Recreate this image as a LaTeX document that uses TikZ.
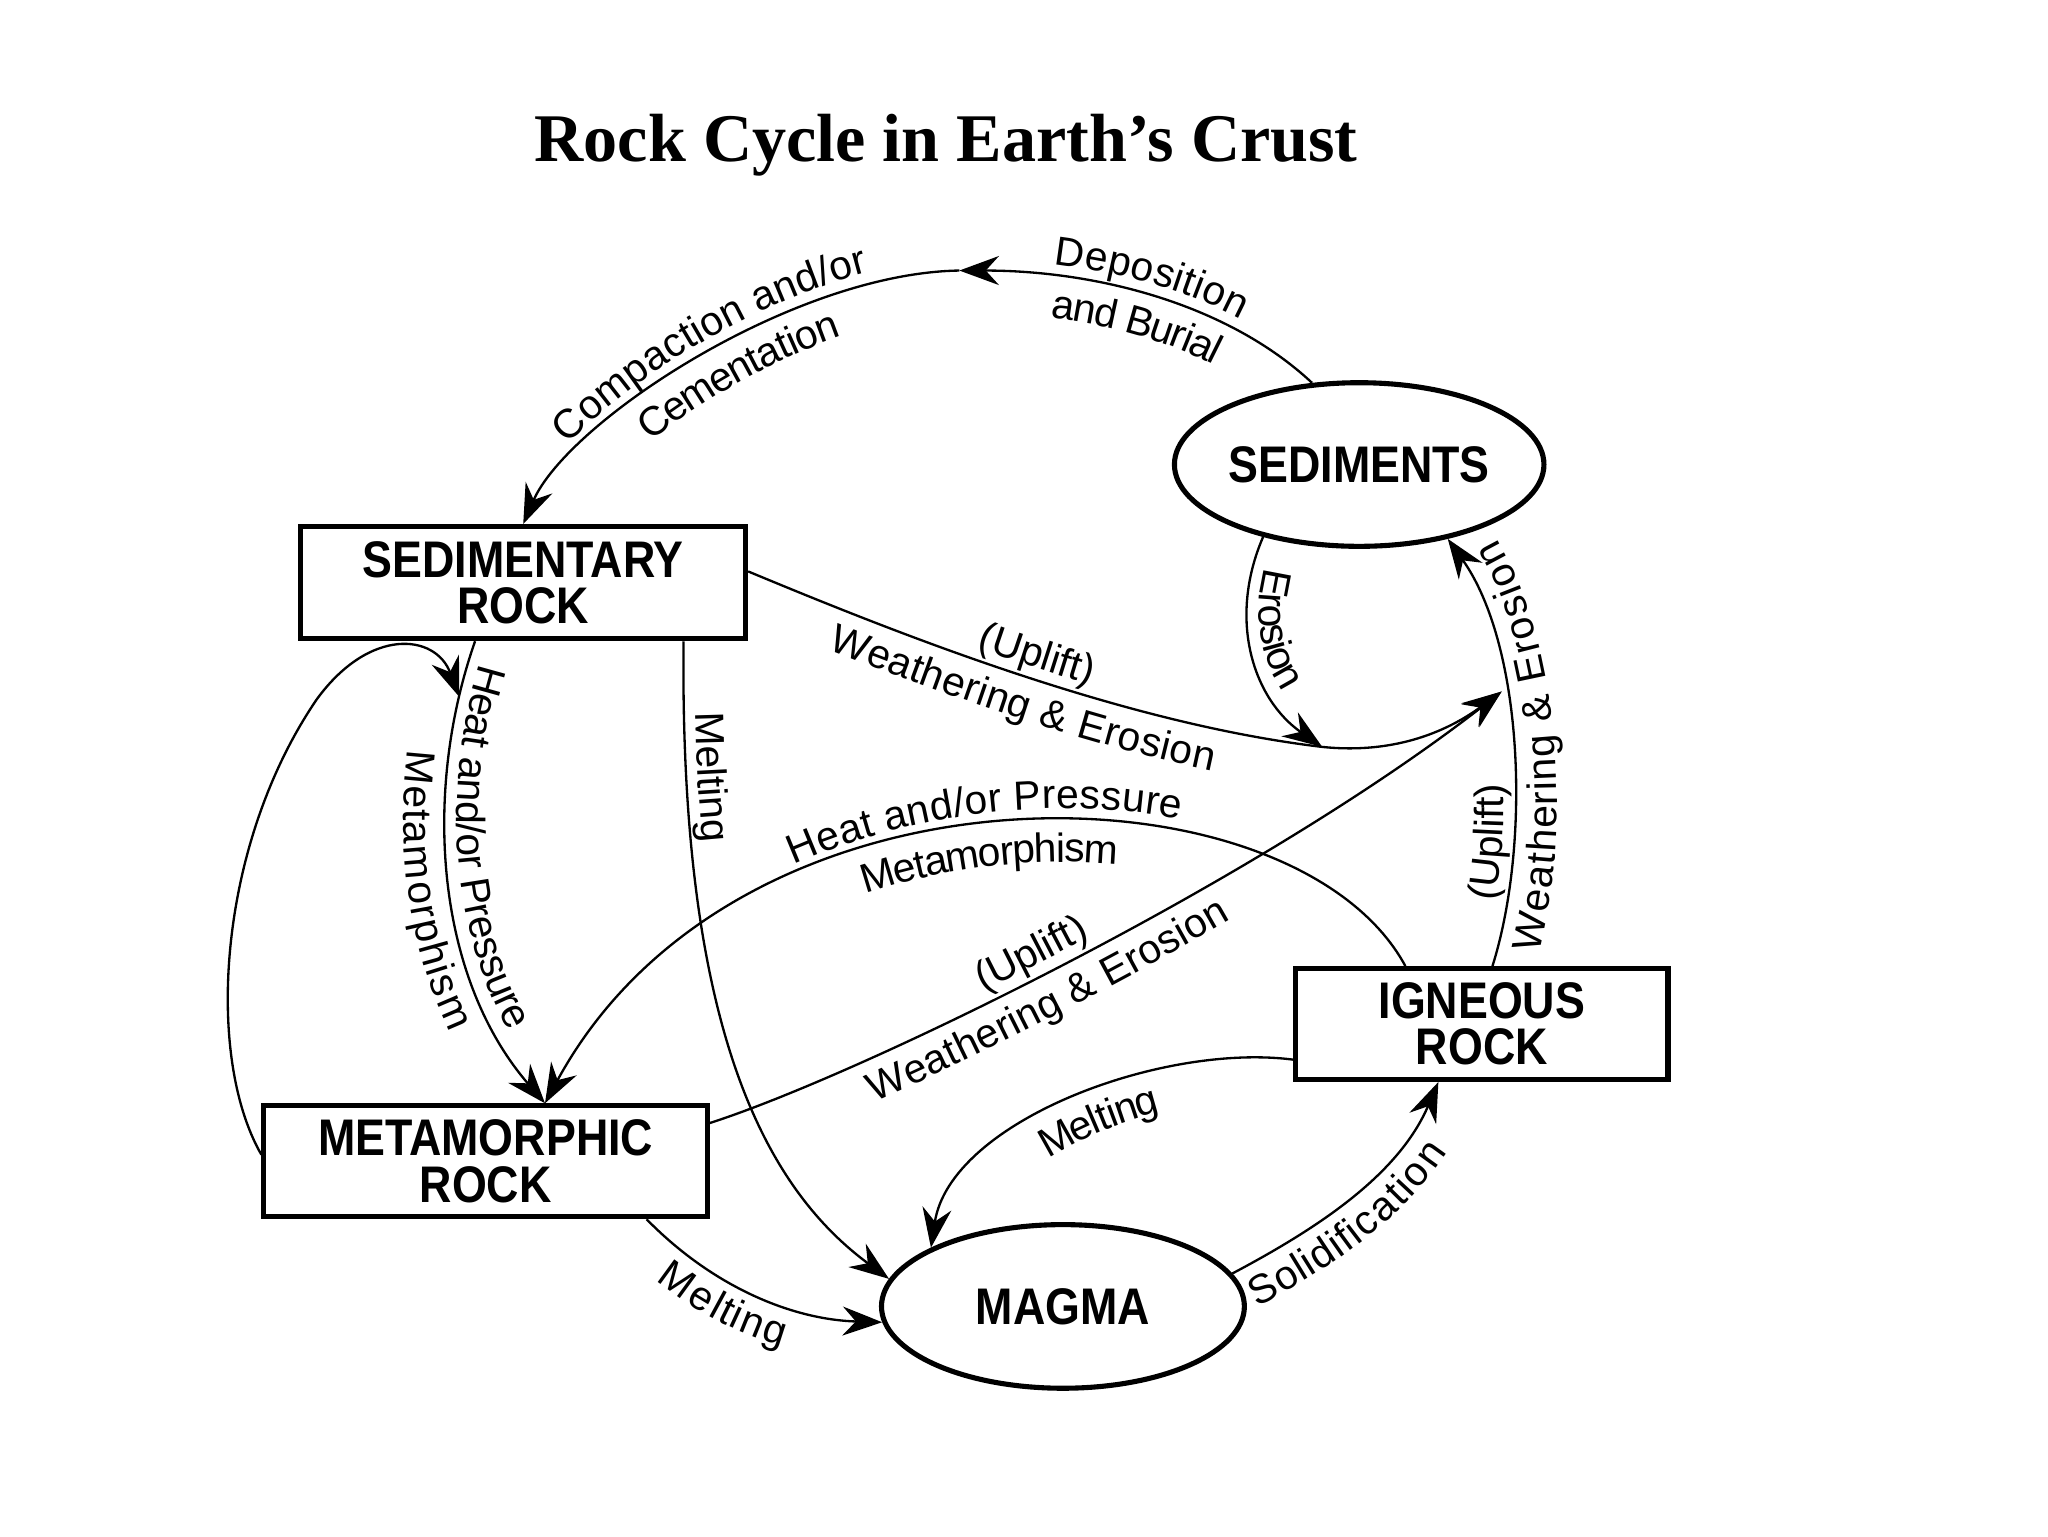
\documentclass[tikz,border=0pt]{standalone}
\usepackage{fontspec}
\usetikzlibrary{arrows.meta,shapes.geometric,decorations.text}
\newfontfamily\lblfont{Liberation Sans}
\newfontfamily\boxfont[FakeStretch=0.87]{Liberation Sans}
\newfontfamily\ttlfont{Liberation Serif}
\newcommand\lblf{\lblfont\fontsize{8.8}{9.5}\selectfont}
\begin{document}
\begin{tikzpicture}[x=0.1mm,y=-0.1mm,
  box/.style={draw,line width=1.1pt,rectangle,inner sep=0pt,align=center,font=\boxfont\bfseries\fontsize{11.1}{10}\selectfont},
  oval/.style={draw,line width=1.1pt,ellipse,inner sep=0pt,font=\boxfont\bfseries\fontsize{11.1}{10}\selectfont},
  flow/.style={line width=0.5pt,-{Stealth[length=3mm,width=2.2mm,inset=1mm]}},
  tpath/.style n args={3}{decorate,decoration={text along path,text={|\lblf|#1},text align={#2},raise=#3}}]
\useasboundingbox (0,0) rectangle (1552,1164);
\node[font=\ttlfont\bfseries\fontsize{14.7}{16}\selectfont] (title) at (717,110) {Rock Cycle in Earth’s Crust};

\node[box,minimum width=33.7mm,minimum height=8.5mm] (sedrock) at (396.5,441.5) {SEDIMENTARY\\ROCK};
\node[box,minimum width=33.6mm,minimum height=8.4mm] (metrock) at (368,880) {METAMORPHIC\\ROCK};
\node[box,minimum width=28.2mm,minimum height=8.4mm] (ignrock) at (1123,776) {IGNEOUS\\ROCK};
\node[oval,minimum width=27.6mm,minimum height=12.4mm] (sediments) at (1030,352) {SEDIMENTS};
\node[oval,minimum width=27.5mm,minimum height=12.4mm] (magma) at (805.5,990) {MAGMA};

\coordinate (top) at (727,205);
\coordinate (j1) at (1002,566);
\coordinate (j2) at (1138,524);
\coordinate (j3) at (348,528);

% deposition and burial
\draw[flow] (sediments.120) .. controls (930,230) and (830,205) .. (top);
\path[tpath={Deposition}{center}{2.5pt}] (top) .. controls (830,205) and (930,230) .. (sediments.120);
\path[tpath={and Burial}{center}{-9pt}] (top) .. controls (830,205) and (930,230) .. (sediments.120);
% compaction / cementation
\draw[flow] (top) .. controls (600,207) and (430,320) .. (sedrock.north);
\path[tpath={Compaction and/or}{center}{2.5pt}] (sedrock.north) .. controls (430,320) and (600,207) .. (top);
\path[tpath={Cementation}{center,left indent=1.5mm}{-9pt}] (sedrock.north) .. controls (430,320) and (600,207) .. (top);
% erosion
\draw[flow] (sediments.217) .. controls (930,470) and (950,530) .. (j1);
\path[tpath={Erosion}{center,right indent=3mm}{2.5pt}] (sediments.217) .. controls (930,470) and (950,530) .. (j1);
% sedimentary rock -> weathering
\draw[flow] ([yshift=0.85mm]sedrock.east) .. controls (680,480) and (850,548) .. (j1) .. controls (1060,572) and (1100,552) .. (j2);
\path[tpath={(Uplift)}{center}{2.5pt}] ([yshift=0.85mm]sedrock.east) .. controls (680,480) and (850,548) .. (j1);
\path[tpath={Weathering {\&} Erosion}{center}{-9pt}] ([yshift=0.85mm]sedrock.east) .. controls (680,480) and (850,548) .. (j1);
% metamorphic rock -> weathering
\draw[flow] ([yshift=2.9mm]metrock.east) .. controls (650,815) and (950,670) .. (j2);
\path[tpath={(Uplift)}{center,right indent=13.4mm}{2.5pt}] ([yshift=2.9mm]metrock.east) .. controls (650,815) and (950,670) .. (j2);
\path[tpath={Weathering {\&} Erosion}{center,right indent=14.4mm}{-9pt}] ([yshift=2.9mm]metrock.east) .. controls (650,815) and (950,670) .. (j2);
% igneous -> sediments
\draw[flow] ([xshift=0.8mm]ignrock.north) .. controls (1160,640) and (1155,490) .. (sediments.320);
\path[tpath={(Uplift)}{center,right indent=14.6mm}{2.5pt}] ([xshift=0.8mm]ignrock.north) .. controls (1160,640) and (1155,490) .. (sediments.320);
\path[tpath={Weathering {\&} Erosion}{center}{-9pt}] ([xshift=0.8mm]ignrock.north) .. controls (1160,640) and (1155,490) .. (sediments.320);
% igneous -> metamorphic
\draw[flow] ([xshift=-5.8mm]ignrock.north) .. controls (980,575) and (560,565) .. ([xshift=4.5mm]metrock.north);
\path[tpath={Heat and/or Pressure}{center,left indent=5.6mm}{2.5pt}] ([xshift=4.5mm]metrock.north) .. controls (560,565) and (980,575) .. ([xshift=-5.8mm]ignrock.north);
\path[tpath={Metamorphism}{center,left indent=5.6mm}{-9pt}] ([xshift=4.5mm]metrock.north) .. controls (560,565) and (980,575) .. ([xshift=-5.8mm]ignrock.north);
% sedimentary -> metamorphic
\draw[flow] ([xshift=-3.65mm]sedrock.south) .. controls (320,600) and (330,740) .. ([xshift=4.5mm]metrock.north);
\path[tpath={Heat and/or Pressure}{center,right indent=4.6mm}{2.5pt}] ([xshift=-3.65mm]sedrock.south) .. controls (320,600) and (330,740) .. ([xshift=4.5mm]metrock.north);
\path[tpath={Metamorphism}{center,left indent=0.8mm}{-9pt}] ([xshift=-3.65mm]sedrock.south) .. controls (320,600) and (330,740) .. ([xshift=4.5mm]metrock.north);
% metamorphic loop
\draw[flow] ([yshift=0.5mm]metrock.west) .. controls (155,800) and (165,640) .. (240,530) .. controls (280,475) and (330,480) .. (j3);
% melting
\draw[flow] ([xshift=12.15mm]sedrock.south) .. controls (515,780) and (580,900) .. (magma.171);
\path[tpath={Melting}{left indent=5.4mm}{2.5pt}] ([xshift=12.15mm]sedrock.south) .. controls (515,780) and (580,900) .. (magma.171);
\draw[flow] ([xshift=12.2mm]metrock.south) .. controls (540,975) and (600,1000) .. (magma.185);
\path[tpath={Melting}{center,right indent=3.4mm}{-8.5pt}] ([xshift=12.2mm]metrock.south) .. controls (540,975) and (600,1000) .. (magma.185);
\draw[flow] ([yshift=-2.7mm]ignrock.west) .. controls (880,790) and (720,850) .. (magma.156);
\path[tpath={Melting}{center,left indent=1.4mm}{-9pt}] (magma.156) .. controls (720,850) and (880,790) .. ([yshift=-2.7mm]ignrock.west);
% solidification
\draw[flow] (magma.11) .. controls (1000,930) and (1060,890) .. ([xshift=-3.3mm]ignrock.south);
\path[tpath={Solidification}{center,right indent=3.5mm}{-9pt}] (magma.11) .. controls (1000,930) and (1060,890) .. ([xshift=-3.3mm]ignrock.south);
\end{tikzpicture}
\end{document}
